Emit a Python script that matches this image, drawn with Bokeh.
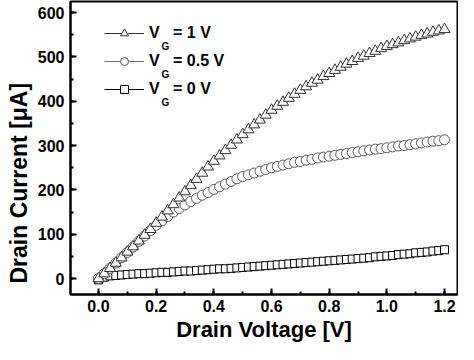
from bokeh.plotting import figure
from bokeh.models import Legend, LegendItem, Label, Range1d, SingleIntervalTicker, Title
from bokeh.embed import file_html
from bokeh.resources import INLINE

# Drain voltage [V], 0.00 .. 1.20 step 0.02
vd = [round(i * 0.02, 2) for i in range(61)]

# V_G = 1 V (triangles)
id_vg1 = [0, 11, 23, 35, 47, 60, 72, 85, 98, 111,
          125, 139, 153, 167, 182, 196, 210, 224, 238, 252,
          265, 277, 289, 301, 313, 325, 336, 347, 358, 369,
          380, 389, 398, 407, 416, 425, 433, 441, 448, 456,
          463, 470, 477, 484, 490, 497, 502, 508, 513, 519,
          524, 528, 532, 537, 541, 545, 549, 552, 556, 559, 562]

# V_G = 0.5 V (circles)
id_vg05 = [0, 11, 23, 35, 47, 59, 71, 84, 96, 108,
           120, 130, 140, 150, 158, 166, 174, 181, 188, 194,
           201, 207, 213, 219, 225, 230, 234, 238, 242, 246,
           250, 253, 256, 259, 262, 264, 267, 269, 272, 274,
           276, 278, 280, 282, 284, 286, 288, 290, 292, 293,
           295, 297, 299, 300, 302, 304, 306, 308, 310, 311, 313]

# V_G = 0 V (squares)
id_vg0 = [-3, 3, 6, 7, 8, 9, 10, 11, 11, 12,
          13, 14, 14, 15, 16, 17, 17, 18, 19, 20,
          21, 22, 22, 23, 24, 25, 26, 27, 28, 29,
          30, 31, 32, 33, 34, 35, 36, 37, 38, 39,
          40, 41, 42, 43, 44, 45, 46, 47, 49, 50,
          51, 52, 54, 55, 56, 58, 59, 60, 62, 63, 65]

x_ticks = [0.0, 0.2, 0.4, 0.6, 0.8, 1.0, 1.2]
legend_values = ["1 V", "0.5 V", "0 V"]

FONT = "Liberation Sans"

p = figure(width=458, height=344, output_backend="svg", toolbar_location=None,
           x_range=Range1d(-0.097, 1.245), y_range=Range1d(-36, 625),
           min_border_left=69, min_border_right=1, min_border_top=1, min_border_bottom=50)
p.grid.visible = False
p.outline_line_color = "black"
p.outline_line_width = 2
p.background_fill_color = "white"
p.border_fill_color = "white"

for ax in (p.xaxis[0], p.yaxis[0]):
    ax.axis_line_width = 2
    ax.axis_line_color = "black"
    ax.major_tick_in = 6
    ax.major_tick_out = 0
    ax.minor_tick_in = 3
    ax.minor_tick_out = 0
    ax.major_tick_line_width = 2
    ax.minor_tick_line_width = 2
    ax.major_label_text_font = FONT
    ax.major_label_text_font_style = "bold"
    ax.major_label_text_font_size = "16px"
    ax.major_label_text_color = "black"
    ax.axis_label_text_font = FONT
    ax.axis_label_text_font_style = "bold"
    ax.axis_label_text_color = "black"

p.xaxis[0].ticker = SingleIntervalTicker(interval=0.2, num_minor_ticks=2)
p.yaxis[0].ticker = SingleIntervalTicker(interval=100, num_minor_ticks=2)
p.xaxis[0].major_label_overrides = {t: f"{t:.1f}" for t in x_ticks}
p.xaxis.axis_label = "Drain Voltage [V]"
p.xaxis[0].axis_label_text_font_size = "22px"
p.xaxis[0].major_label_standoff = 5
p.xaxis[0].axis_label_standoff = 2
p.yaxis[0].major_label_standoff = 6

ytitle = Title(text="Drain Current [\u03bcA]", align="left", offset=11, standoff=6,
               text_font=FONT, text_font_style="bold", text_font_size="23px",
               text_color="black", vertical_align="bottom")
p.add_layout(ytitle, "left")

# squares (V_G = 0 V)
l0 = p.line(vd, id_vg0, line_color="black", line_width=1)
s0 = p.scatter(vd, id_vg0, marker="square", size=8, line_color="black",
               fill_color="white", line_width=1)
# circles (V_G = 0.5 V)
l05 = p.line(vd, id_vg05, line_color="#707070", line_width=1)
s05 = p.scatter(vd, id_vg05, marker="circle", size=10, line_color="#5a5a5a",
                fill_color="white", line_width=1)
# triangles (V_G = 1 V)
l1 = p.line(vd, id_vg1, line_color="#303030", line_width=1)
s1 = p.scatter(vd, id_vg1, marker="triangle", size=11, line_color="#303030",
               fill_color="white", line_width=1)

legend = Legend(items=[
    LegendItem(label="V   = " + legend_values[0], renderers=[l1, s1]),
    LegendItem(label="V   = " + legend_values[1], renderers=[l05, s05]),
    LegendItem(label="V   = " + legend_values[2], renderers=[l0, s0]),
], location=(34, 195))
legend.label_text_font = FONT
legend.label_text_font_style = "bold"
legend.label_text_font_size = "16px"
legend.label_text_color = "black"
legend.glyph_width = 40
legend.glyph_height = 20
legend.label_height = 20
legend.spacing = 8
legend.padding = 0
legend.margin = 0
legend.label_standoff = 5
legend.border_line_alpha = 0
legend.background_fill_alpha = 0
p.add_layout(legend)

for i in range(3):
    p.add_layout(Label(x=91, y=248 - 28 * i, x_units="screen", y_units="screen",
                       text="G", text_font=FONT, text_font_style="bold",
                       text_font_size="10px", text_color="black",
                       text_baseline="alphabetic"))

open("out.html", "w").write(file_html(p, INLINE))
